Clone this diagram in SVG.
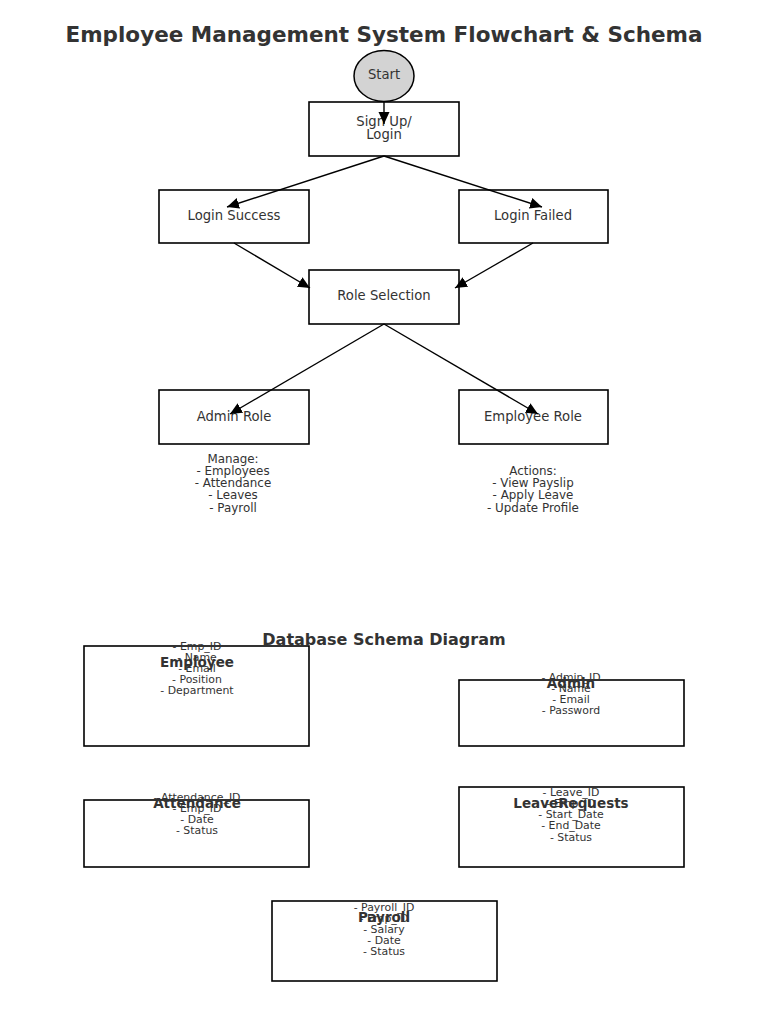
<svg xmlns="http://www.w3.org/2000/svg" width="768" height="1024" viewBox="0 0 768 1024">
<defs>
<marker id="ah" viewBox="0 0 12 12" refX="12" refY="6" markerWidth="12" markerHeight="12" markerUnits="userSpaceOnUse" orient="auto">
<path d="M0,0.5 L12,6 L0,11.5 Z" fill="#000"/>
</marker>
</defs>
<style>
text{font-family:"DejaVu Sans","Liberation Sans",sans-serif;fill:#333;text-anchor:middle}
.t{font-size:21.5px;font-weight:bold}
.st{font-size:16px;font-weight:bold}
.n{font-size:13.2px}
.s{font-size:11.9px}
.a{font-size:10.9px}
.h{font-size:13.5px;font-weight:bold}
.box{fill:#fff;stroke:#000;stroke-width:1.6}
.c{stroke:#000;stroke-width:1.4;fill:none;marker-end:url(#ah)}
</style>
<rect width="768" height="1024" fill="#fff"/>
<text class="t" x="384" y="42">Employee Management System Flowchart &amp; Schema</text>

<g id="start"><ellipse cx="384" cy="76" rx="30" ry="25.5" fill="#d3d3d3" stroke="#000" stroke-width="1.5"/><text class="n" x="384" y="79">Start</text></g>
<g id="signup"><rect class="box" x="309" y="102" width="150" height="54"/><text class="n" x="384" y="126">Sign Up/</text><text class="n" x="384" y="139">Login</text></g>
<g id="success"><rect class="box" x="159" y="190" width="150" height="53"/><text class="n" x="234" y="220">Login Success</text></g>
<g id="failed"><rect class="box" x="459" y="190" width="149" height="53"/><text class="n" x="533" y="220">Login Failed</text></g>
<g id="role"><rect class="box" x="309" y="270" width="150" height="54"/><text class="n" x="384" y="300">Role Selection</text></g>
<g id="admin-role"><rect class="box" x="159" y="390" width="150" height="54"/><text class="n" x="234" y="421">Admin Role</text></g>
<g id="employee-role"><rect class="box" x="459" y="390" width="149" height="54"/><text class="n" x="533" y="421">Employee Role</text></g>

<g id="admin-notes"><text class="s" x="233" y="463">Manage:</text><text class="s" x="233" y="475">- Employees</text><text class="s" x="233" y="487">- Attendance</text><text class="s" x="233" y="499">- Leaves</text><text class="s" x="233" y="512">- Payroll</text></g>
<g id="employee-notes"><text class="s" x="533" y="475">Actions:</text><text class="s" x="533" y="487">- View Payslip</text><text class="s" x="533" y="499">- Apply Leave</text><text class="s" x="533" y="512">- Update Profile</text></g>

<g id="connectors">
<line class="c" x1="384" y1="102" x2="384" y2="124"/>
<line class="c" x1="384" y1="156" x2="227" y2="207"/>
<line class="c" x1="384" y1="156" x2="542" y2="207"/>
<line class="c" x1="234" y1="243" x2="310" y2="288"/>
<line class="c" x1="533" y1="243" x2="455" y2="288"/>
<line class="c" x1="384" y1="324" x2="230" y2="414"/>
<line class="c" x1="384" y1="324" x2="538" y2="414"/>
</g>

<text class="st" x="384" y="645">Database Schema Diagram</text>

<g id="tbl-employee"><rect class="box" x="84" y="646" width="225" height="100"/>
<text class="a" x="197" y="650">- Emp_ID</text><text class="a" x="197" y="661">- Name</text><text class="a" x="197" y="672">- Email</text><text class="a" x="197" y="683">- Position</text><text class="a" x="197" y="694">- Department</text>
<text class="h" x="197" y="667">Employee</text></g>

<g id="tbl-admin"><rect class="box" x="459" y="680" width="225" height="66"/>
<text class="a" x="571" y="681">- Admin_ID</text><text class="a" x="571" y="692">- Name</text><text class="a" x="571" y="703">- Email</text><text class="a" x="571" y="714">- Password</text>
<text class="h" x="571" y="688">Admin</text></g>

<g id="tbl-attendance"><rect class="box" x="84" y="800" width="225" height="67"/>
<text class="a" x="197" y="801">- Attendance_ID</text><text class="a" x="197" y="812">- Emp_ID</text><text class="a" x="197" y="823">- Date</text><text class="a" x="197" y="834">- Status</text>
<text class="h" x="197" y="808">Attendance</text></g>

<g id="tbl-leave"><rect class="box" x="459" y="787" width="225" height="80"/>
<text class="a" x="571" y="796">- Leave_ID</text><text class="a" x="571" y="807">- Emp_ID</text><text class="a" x="571" y="818">- Start_Date</text><text class="a" x="571" y="829">- End_Date</text><text class="a" x="571" y="841">- Status</text>
<text class="h" x="571" y="808">LeaveRequests</text></g>

<g id="tbl-payroll"><rect class="box" x="272" y="901" width="225" height="80"/>
<text class="a" x="384" y="911">- Payroll_ID</text><text class="a" x="384" y="922">- Emp_ID</text><text class="a" x="384" y="933">- Salary</text><text class="a" x="384" y="944">- Date</text><text class="a" x="384" y="955">- Status</text>
<text class="h" x="384" y="922">Payroll</text></g>
</svg>
